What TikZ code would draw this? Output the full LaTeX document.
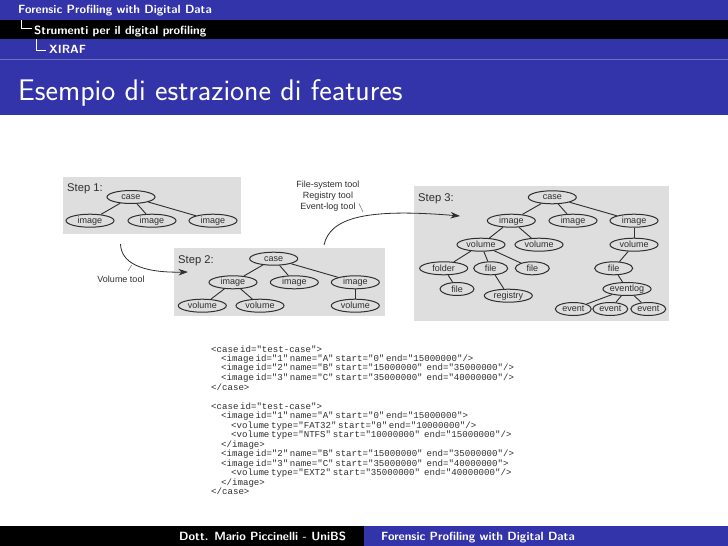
\documentclass[tikz,border=0pt]{standalone}
\usepackage{fontspec}
\setmainfont{Liberation Sans}
\setsansfont{Latin Modern Sans}
\newfontfamily\xmlfont[WordSpace=0.3]{Liberation Mono}
\usetikzlibrary{arrows.meta,shapes.geometric}
\definecolor{bandblue}{HTML}{3333AA}
\definecolor{panelgrey}{HTML}{DEDEDE}
\definecolor{inkgrey}{HTML}{2E2E2E}
\newcommand{\sz}[1]{\fontsize{#1}{#1}\selectfont}
\newcommand{\fs}{\hspace{4pt}}
\tikzset{
  x=1pt,y=-1pt,
  headtext/.style={anchor=base west,inner sep=0pt,text=white,font=\sffamily\bfseries\sz{11.9}},
  panel/.style={fill=panelgrey,draw=none},
  steplabel/.style={anchor=base west,inner sep=0pt,text=inkgrey,font=\sz{11.2}},
  el/.style={ellipse,draw=inkgrey,line width=1pt,fill=panelgrey,inner sep=0pt,text=inkgrey,font=\sz{9},minimum height=13pt,minimum width=48pt},
  els/.style={el,minimum width=34pt},
  edge/.style={draw=inkgrey,line width=0.9pt},
  tooltext/.style={inner sep=0pt,text=inkgrey,font=\sz{9}},
  flow/.style={draw=inkgrey,line width=0.8pt,-{Stealth[length=9.5pt,width=6.5pt]}},
  tick/.style={draw=gray,line width=0.6pt},
  xml/.style={anchor=base west,inner sep=0pt,text=inkgrey,font=\xmlfont\sz{9.1}},
  marker/.style={draw=white,line width=0.6pt},
}
\begin{document}
\begin{tikzpicture}
\useasboundingbox (0,0) rectangle (728,546);
\fill[white] (0,0) rectangle (728,546);
% header
\fill[bandblue] (0,0) rectangle (728,115);
\fill[black] (0,20) rectangle (728,39);
\draw[color=bandblue!70!white,line width=0.5pt] (0,59) -- (728,59);
\node[headtext] (h1) at (18,13.7) {Forensic Profiling with Digital Data};
\node[headtext] (h2) at (34,34) {Strumenti per il digital profiling};
\node[headtext] (h3) at (49,53.5) {XIRAF};
\draw[marker] (21,20) |- (32,28.5);
\draw[marker] (36,39) |- (46,50);
\node[anchor=base west,inner sep=0pt,text=white,font=\sffamily\sz{29.8}] (title) at (18,100) {Esempio di estrazione di features};
% footer
\fill[black] (0,526) rectangle (364,546);
\fill[bandblue] (364,526) rectangle (728,546);
\node[headtext] (f1) at (179,540) {Dott. Mario Piccinelli - UniBS};
\node[headtext] (f2) at (381,540) {Forensic Profiling with Digital Data};
% panels
\fill[panel] (63,177) rectangle (241,234);
\fill[panel] (174,248) rectangle (385,316);
\fill[panel] (414,186) rectangle (669,321);
\node[steplabel] (s1) at (67,191) {Step 1:};
\node[steplabel] (s2) at (178,263.5) {Step 2:};
\node[steplabel] (s3) at (418,201) {Step 3:};
% step 1
\node[el] (a0) at (131,197) {case};
\node[el] (a1) at (90,220.7) {image};
\node[el] (a2) at (152,220.7) {image};
\node[el] (a3) at (213,220.7) {image};
\draw[edge] (a0) -- (a1);
\draw[edge] (a0) -- (a2);
\draw[edge] (a0) -- (a3);
% step 2
\node[el] (b0) at (273.7,258.7) {case};
\node[el] (b1) at (233,282.3) {image};
\node[el] (b2) at (294.3,282.3) {image};
\node[el] (b3) at (355.3,282.3) {image};
\node[el] (b4) at (202.3,305.7) {volume};
\node[el] (b5) at (260,305.7) {volume};
\node[el] (b6) at (355.3,305.7) {volume};
\draw[edge] (b0) -- (b1);
\draw[edge] (b0) -- (b2);
\draw[edge] (b0) -- (b3);
\draw[edge] (b1) -- (b4);
\draw[edge] (b1) -- (b5);
\draw[edge] (b3) -- (b6);
% step 3
\node[el] (c0) at (552.3,197.3) {case};
\node[el] (c1) at (511.3,220.7) {image};
\node[el] (c2) at (573,220.7) {image};
\node[el] (c3) at (634,220.7) {image};
\node[el] (c4) at (481,244.7) {volume};
\node[el] (c5) at (539,244.7) {volume};
\node[el] (c6) at (634,244.7) {volume};
\node[el] (c7) at (443.7,268.3) {folder};
\node[els] (c8) at (490.7,268.3) {file};
\node[els] (c9) at (532.3,268.3) {file};
\node[els,minimum width=38pt] (c10) at (613.7,268.3) {file};
\node[els] (c11) at (457,289) {file};
\node[el] (c12) at (508.3,295.7) {registry};
\node[el] (c13) at (627,289) {eventlog};
\node[els,minimum width=36pt] (c14) at (573.3,309) {event};
\node[els,minimum width=35pt] (c15) at (610.3,309) {event};
\node[els,minimum width=35pt] (c16) at (648.3,309) {event};
\draw[edge] (c0) -- (c1);
\draw[edge] (c0) -- (c2);
\draw[edge] (c0) -- (c3);
\draw[edge] (c1) -- (c4);
\draw[edge] (c1) -- (c5);
\draw[edge] (c3) -- (c6);
\draw[edge] (c4) -- (c7);
\draw[edge] (c4) -- (c8);
\draw[edge] (c4) -- (c9);
\draw[edge] (c6) -- (c10);
\draw[edge] (c7) -- (c11);
\draw[edge] (c8) -- (c12);
\draw[edge] (c10) -- (c13);
\draw[edge] (c13) -- (c14);
\draw[edge] (c13) -- (c15);
\draw[edge] (c13) -- (c16);
% flows
\coordinate (p1) at (120.5,244);
\coordinate (q1) at (188,272);
\coordinate (p2) at (324,245);
\coordinate (q2) at (460,216);
\draw[flow] (p1) .. controls (121,262) and (140,273) .. (q1);
\draw[flow] (p2) .. controls (330,218) and (365,208) .. (q2);
\node[tooltext] (t1) at (121,279) {Volume tool};
\node[tooltext] (t2) at (328,185) {File-system tool};
\node[tooltext] (t3) at (328,196) {Registry tool};
\node[tooltext] (t4) at (328,207) {Event-log tool};
\coordinate (k1) at (131.7,265);
\coordinate (k2) at (128,271);
\coordinate (k3) at (359,203.5);
\coordinate (k4) at (363,212);
\draw[tick] (k1) -- (k2);
\draw[tick] (k3) -- (k4);
% xml
\node[xml] (x1) at (211,352) {<case id="test-case">};
\node[xml] (x2) at (221,361.3) {<image id="1" name="A" start="0" end="15000000"/>};
\node[xml] (x3) at (221,370.7) {<image id="2" name="B" start="15000000"\fs end="35000000"/>};
\node[xml] (x4) at (221,380.3) {<image id="3" name="C" start="35000000"\fs end="40000000"/>};
\node[xml] (x5) at (211,390.3) {</case>};
\node[xml] (x6) at (211,409.3) {<case id="test-case">};
\node[xml] (x7) at (221,418.7) {<image id="1" name="A" start="0" end="15000000">};
\node[xml] (x8) at (231,428) {<volume type="FAT32" start="0" end="10000000"/>};
\node[xml] (x9) at (231,437.3) {<volume type="NTFS" start="10000000"\fs end="15000000"/>};
\node[xml] (x10) at (221,447) {</image>};
\node[xml] (x11) at (221,456.7) {<image id="2" name="B" start="15000000"\fs end="35000000"/>};
\node[xml] (x12) at (221,466.3) {<image id="3" name="C" start="35000000"\fs end="40000000">};
\node[xml] (x13) at (231,475.7) {<volume type="EXT2" start="35000000"\fs end="40000000"/>};
\node[xml] (x14) at (221,485) {</image>};
\node[xml] (x15) at (211,494.3) {</case>};
\end{tikzpicture}
\end{document}
